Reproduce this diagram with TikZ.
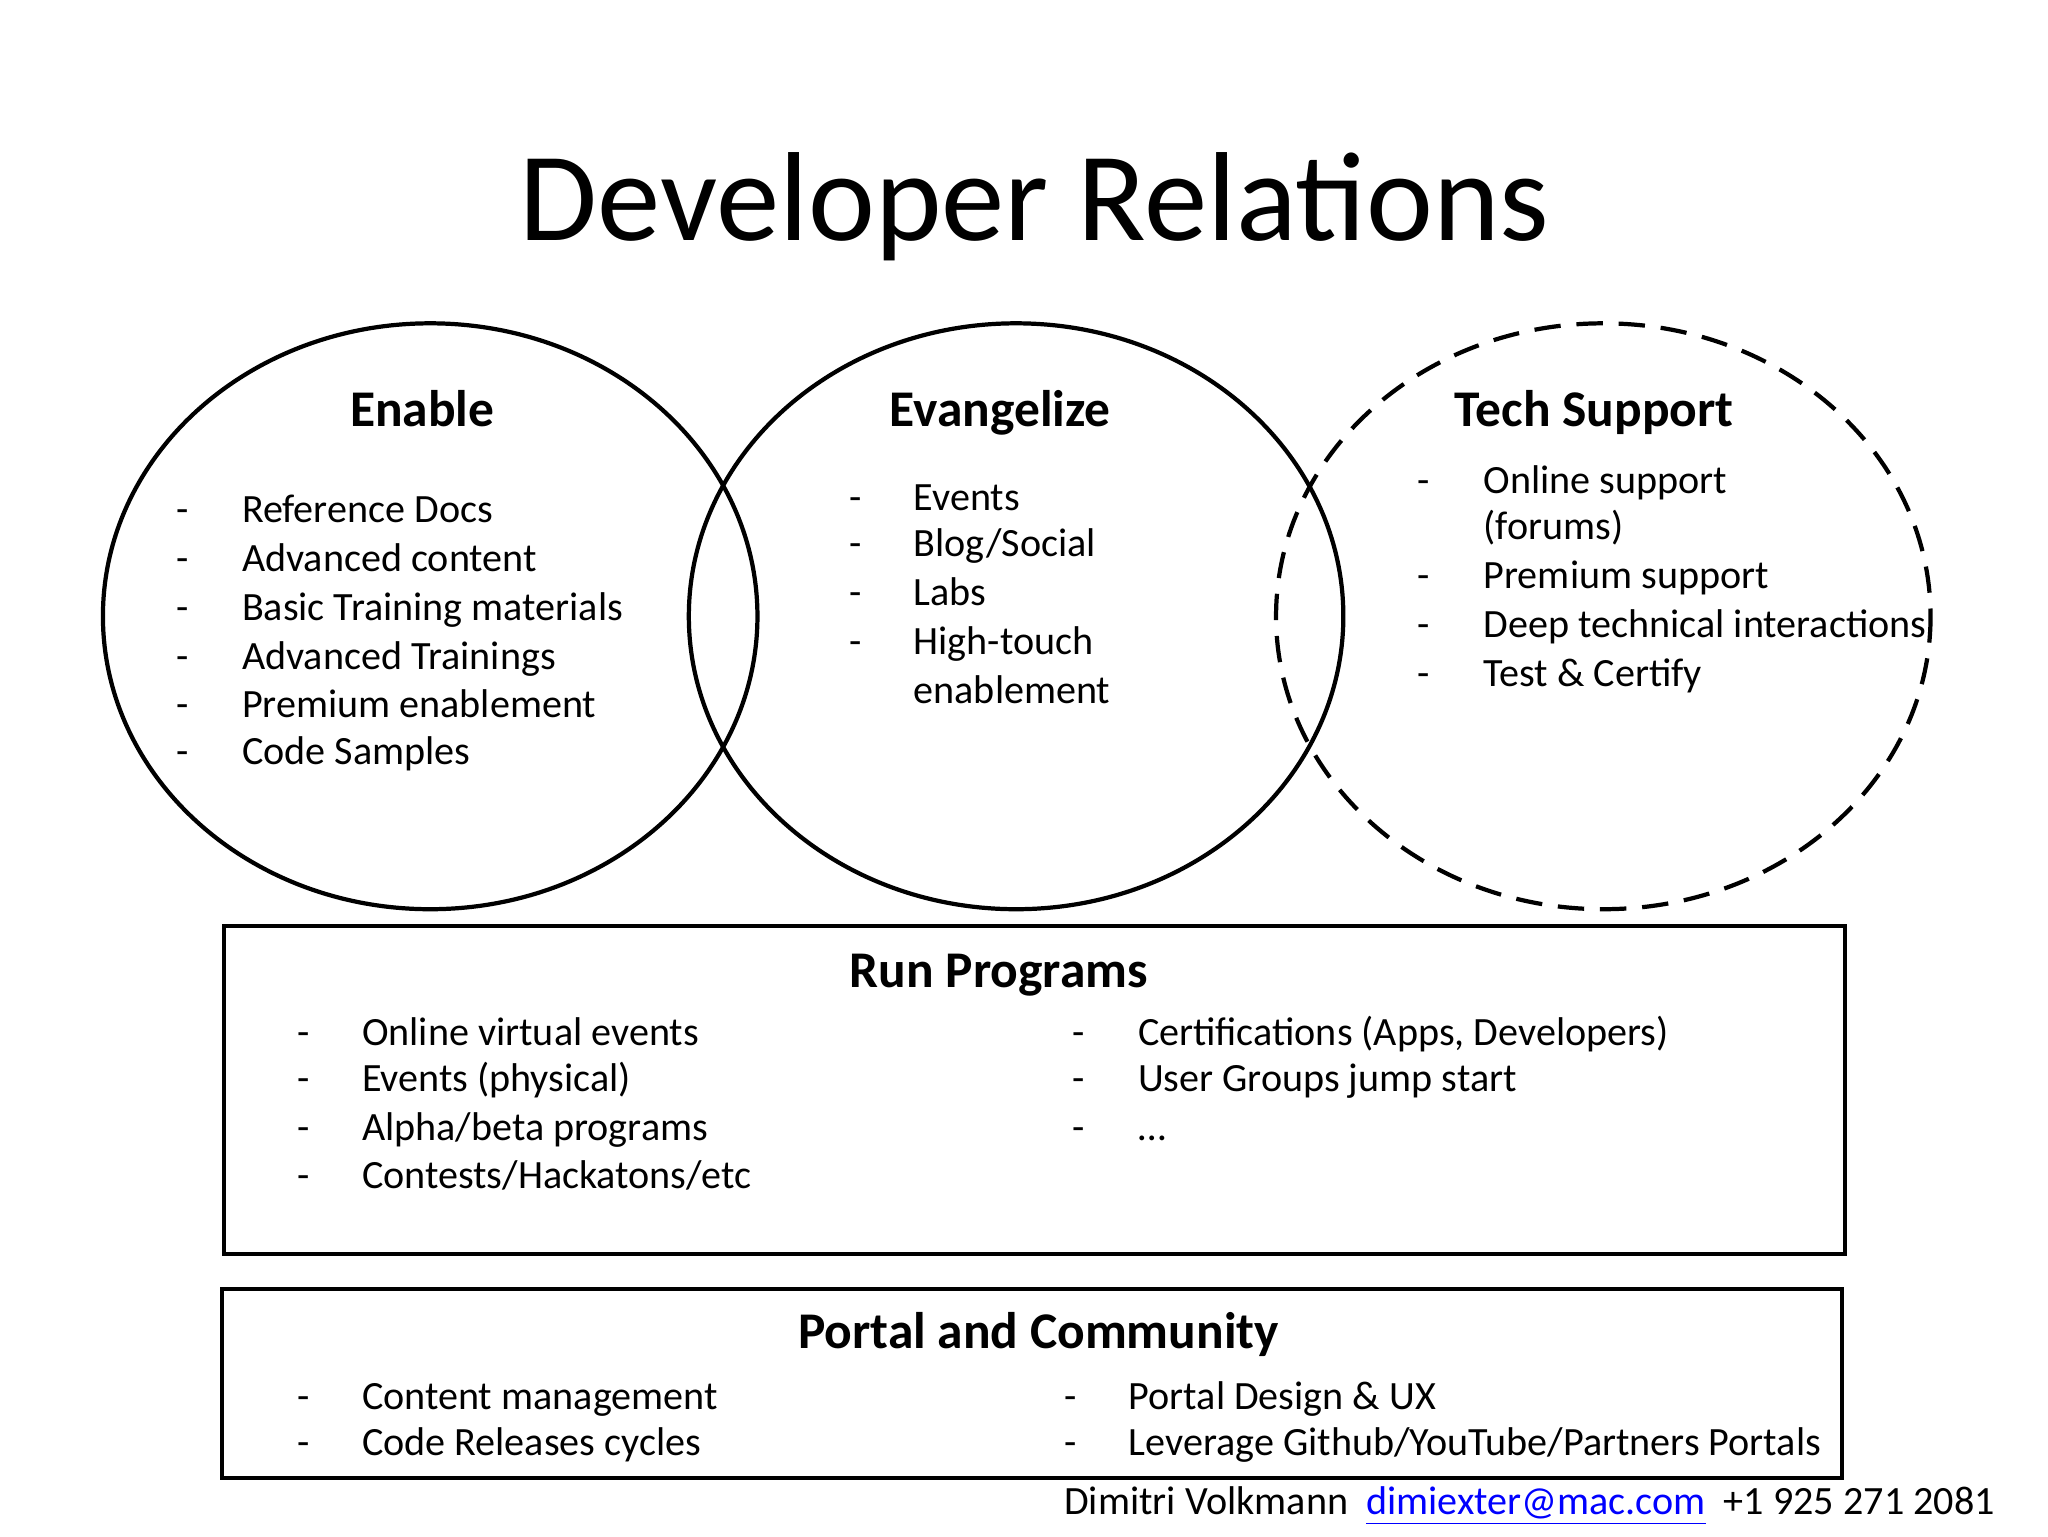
\documentclass[tikz,border=0pt]{standalone}
\usepackage{fontspec}
\setmainfont{Carlito}
\begin{document}
\begin{tikzpicture}[x=0.5pt,y=-0.5pt,
  shape line/.style={line width=1.6pt},
  itm/.style={anchor=base west,inner sep=0pt,font=\fontsize{15.2}{18}\selectfont},
  hd/.style={font=\bfseries\fontsize{19.5}{22}\selectfont,inner sep=0pt,anchor=base}]
\useasboundingbox (0,0) rectangle (1552,1164);
\node[anchor=base] (title) at (784,182) {\fontsize{48}{56}\selectfont Developer Relations};
\draw[shape line] (326,467) ellipse [x radius=248,y radius=222];
\draw[shape line] (770,467) ellipse [x radius=248,y radius=222];
\draw[shape line,dash pattern=on 10pt off 6pt] (1215,467) ellipse [x radius=248,y radius=222];
\node[hd] (h1) at (320,323) {Enable};
\node[hd] (h2) at (758,323) {Evangelize};
\node[hd] (h3) at (1208,323) {Tech Support};
\foreach \t [count=\i] in {Reference Docs,Advanced content,Basic Training materials,Advanced Trainings,Premium enablement,Code Samples}{
  \pgfmathsetmacro\yy{{396,433,470,507,544,579}[\i-1]}
  \node[itm] (ed\i) at (133,\yy) {-};
  \node[itm] (e\i) at (183,\yy) {\t};}
\foreach \t/\yy in {Events/387,Blog{/}Social/422,Labs/459,High-touch/496}{
  \node[itm] at (643,\yy) {-};
  \node[itm] at (692,\yy) {\t};}
\node[itm] (v5) at (692,533) {enablement};
\foreach \t/\yy in {Online support/374,Premium support/446,Deep technical interactions/483,Test \& Certify/520}{
  \node[itm] at (1074,\yy) {-};
  \node[itm] at (1124,\yy) {\t};}
\node[itm] (t2) at (1124,409) {(forums)};
\draw[shape line] (170,702) rectangle (1398,950);
\node[hd] (rp) at (757,748) {Run Programs};
\foreach \t/\yy in {Online virtual events/792,Events (physical)/827,Alpha{/}beta programs/864,Contests{/}Hackatons{/}etc/901}{
  \node[itm] at (225,\yy) {-};
  \node[itm] at (274,\yy) {\t};}
\foreach \t/\yy in {{Certifications (Apps, Developers)}/792,User Groups jump start/827,\dots/864}{
  \node[itm] at (812,\yy) {-};
  \node[itm] at (862,\yy) {\t};}
\draw[shape line] (168,977) rectangle (1396,1120);
\node[hd] (pc) at (787,1022) {Portal and Community};
\foreach \t/\yy in {Content management/1068,Code Releases cycles/1103}{
  \node[itm] at (225,\yy) {-};
  \node[itm] at (274,\yy) {\t};}
\foreach \t/\yy in {Portal Design \& UX/1068,Leverage Github{/}YouTube{/}Partners Portals/1103}{
  \node[itm] at (806,\yy) {-};
  \node[itm] at (855,\yy) {\t};}
\node[inner sep=0pt,anchor=base east,font=\fontsize{15.2}{18}\selectfont] (foot) at (1512,1148) {Dimitri Volkmann\ \ \textcolor{blue}{\underline{dimiexter@mac.com}}\ \ +1 925 271 2081};
\end{tikzpicture}
\end{document}
